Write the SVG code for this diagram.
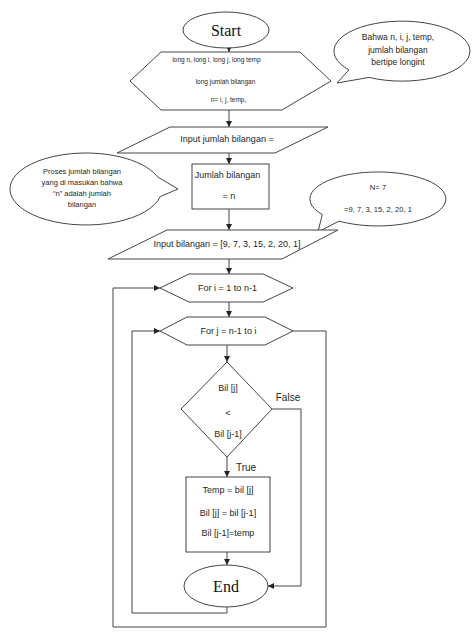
<svg xmlns="http://www.w3.org/2000/svg" width="474" height="644" viewBox="0 0 474 644">
<style>
.s{fill:#fff;stroke:#444;stroke-width:1}
.c{fill:none;stroke:#444;stroke-width:1}
.t{font-family:"Liberation Sans",Arial,sans-serif;fill:#262626;text-anchor:middle}
.sr{font-family:"Liberation Serif","Times New Roman",serif;fill:#111;text-anchor:middle;font-size:16px}
</style>
<defs>
<marker id="ah" markerWidth="6" markerHeight="6" refX="6" refY="3" orient="auto" markerUnits="userSpaceOnUse">
<path d="M0,0 L6,3 L0,6 Z" fill="#222"/>
</marker>
</defs>
<rect width="474" height="644" fill="#fff"/>
<g id="connectors">
<line class="c" x1="229" y1="48" x2="229" y2="52" marker-end="url(#ah)"/>
<line class="c" x1="229" y1="110" x2="229" y2="127" marker-end="url(#ah)"/>
<line class="c" x1="229" y1="153" x2="229" y2="164" marker-end="url(#ah)"/>
<line class="c" x1="229" y1="209" x2="229" y2="230" marker-end="url(#ah)"/>
<line class="c" x1="229" y1="259" x2="229" y2="274" marker-end="url(#ah)"/>
<line class="c" x1="229" y1="302" x2="229" y2="317" marker-end="url(#ah)"/>
<line class="c" x1="227" y1="345" x2="227" y2="362" marker-end="url(#ah)"/>
<line class="c" x1="227" y1="457" x2="227" y2="477" marker-end="url(#ah)"/>
<line class="c" x1="227" y1="552" x2="227" y2="565" marker-end="url(#ah)"/>
<polyline class="c" points="272,409 301,409 301,586 268,586" marker-end="url(#ah)"/>
<polyline class="c" points="227,607 227,613 132,613 132,331 160,331" marker-end="url(#ah)"/>
<polyline class="c" points="293,331 326,331 326,627 113,627 113,288 160,288" marker-end="url(#ah)"/>
</g>
<g id="start">
<ellipse class="s" cx="226" cy="30" rx="43" ry="18"/>
<text class="sr" x="226" y="35.5">Start</text>
</g>
<g id="declare">
<polygon class="s" points="161,52 300,52 331,81 282,110 161,110 130,81"/>
<text class="t" font-size="6.5" x="216.5" y="61.8">long n, long i, long j, long temp</text>
<text class="t" font-size="6.5" x="225.5" y="84.3">long jumlah bilangan</text>
<text class="t" font-size="6.5" x="228.5" y="102.3">n= i, j, temp,</text>
</g>
<g id="note-type">
<path class="s" d="M348.9,69.9 L337,83 L369.1,77.4 A68 30 0 1 0 348.9,69.9 Z"/>
<text class="t" font-size="8.5" x="398" y="40">Bahwa n, i, j, temp,</text>
<text class="t" font-size="8.5" x="398" y="53">jumlah bilangan</text>
<text class="t" font-size="8.5" x="398" y="65">bertipe longint</text>
</g>
<g id="input-count">
<polygon class="s" points="170,127 328,127 275,153 117,153"/>
<text class="t" font-size="9" x="227" y="142">Input jumlah bilangan =</text>
</g>
<g id="process-count">
<rect class="s" x="192" y="164" width="77" height="45"/>
<text class="t" font-size="9" x="227.5" y="178">Jumlah bilangan</text>
<text class="t" font-size="9" x="229" y="199">= n</text>
</g>
<g id="note-process">
<path class="s" d="M160.3,196.5 L178,189 L157.4,176.7 A76 36 0 1 0 160.3,196.5 Z"/>
<text class="t" font-size="7.5" x="82" y="173.6">Proses jumlah bilangan</text>
<text class="t" font-size="7.5" x="82" y="184.6">yang di masukan bahwa</text>
<text class="t" font-size="7.5" x="82" y="195.6">“n” adalah jumlah</text>
<text class="t" font-size="7.5" x="82" y="206.6">bilangan</text>
</g>
<g id="note-values">
<path class="s" d="M322.3,214.5 L318,232 L339,221.1 A68 27 0 1 0 322.3,214.5 Z"/>
<text class="t" font-size="7.6" x="378" y="189.7">N= 7</text>
<text class="t" font-size="7.6" x="378" y="211.7">=9, 7, 3, 15, 2, 20, 1</text>
</g>
<g id="input-values">
<polygon class="s" points="167,230 338,230 282,259 108,259"/>
<text class="t" font-size="9" x="227" y="247">Input bilangan = [9, 7, 3, 15, 2, 20, 1]</text>
</g>
<g id="for-i">
<polygon class="s" points="189,274 263,274 293,288 263,302 189,302 160,288"/>
<text class="t" font-size="9" x="227.5" y="290.5">For i = 1 to n-1</text>
</g>
<g id="for-j">
<polygon class="s" points="187,317 265,317 293,331 265,345 187,345 160,331"/>
<text class="t" font-size="9" x="228.5" y="333.5">For j = n-1 to i</text>
</g>
<g id="compare">
<polygon class="s" points="227,362 272,409 227,457 181,409"/>
<text class="t" font-size="9" x="228" y="391">Bil [j]</text>
<text class="t" font-size="9" x="228" y="416">&lt;</text>
<text class="t" font-size="9" x="228" y="437">Bil [j-1]</text>
</g>
<g id="labels">
<text class="t" font-size="10" x="288" y="400.5">False</text>
<text class="t" font-size="10" x="246" y="470.5">True</text>
</g>
<g id="swap">
<rect class="s" x="186" y="477" width="84" height="75"/>
<text class="t" font-size="9" x="228" y="493">Temp = bil [j]</text>
<text class="t" font-size="9" x="228" y="516">Bil [j] = bil [j-1]</text>
<text class="t" font-size="9" x="228" y="536">Bil [j-1]=temp</text>
</g>
<g id="end">
<ellipse class="s" cx="226" cy="586" rx="42" ry="21"/>
<text class="sr" x="226" y="591.5">End</text>
</g>
</svg>
